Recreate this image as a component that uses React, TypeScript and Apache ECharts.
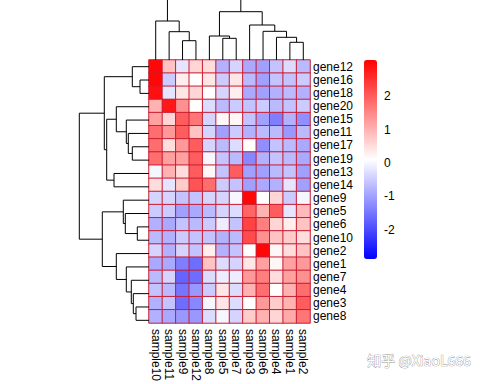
import React, { useEffect, useRef } from "react";
import * as echarts from "echarts";

const genes = ["gene12","gene16","gene18","gene20","gene15","gene11","gene17","gene19","gene13","gene14","gene9","gene5","gene6","gene10","gene2","gene1","gene7","gene4","gene3","gene8"];
const samples = ["sample10","sample11","sample9","sample12","sample8","sample5","sample7","sample3","sample6","sample4","sample1","sample2"];

// rows follow `genes`, columns follow `samples`
const values: number[][] = [
  [3.0, 0.8, -0.2, 0.6, 0.5, -0.8, -0.4, -0.9, -1.0, -0.6, -0.3, -0.7],
  [3.0, -0.5, 0.3, 0.1, 0.4, -0.5, 0.4, -0.7, -1.0, -0.6, -0.6, -0.5],
  [2.9, -0.2, 0.4, 0.6, 0.1, -0.4, 0.3, -0.9, -1.0, -0.8, -0.7, -0.8],
  [1.0, 2.8, 1.4, 0.1, -0.3, -0.7, -0.5, -0.6, -0.5, -0.7, -0.6, -0.5],
  [1.2, 0.6, 2.0, 1.7, -0.4, 0.2, 0.2, -0.6, -1.0, -1.4, -0.8, -1.2],
  [1.8, 1.3, 2.0, 0.8, -0.4, -1.0, -0.5, -0.8, -0.7, -0.7, -1.1, -0.7],
  [1.8, 0.5, 1.3, 2.0, -0.4, -0.7, -0.3, 0.1, -1.2, -0.6, -0.7, -0.9],
  [1.8, 1.2, 1.2, 2.0, 0.0, -0.6, -0.7, -1.3, -0.8, -0.6, -0.7, -0.9],
  [0.0, 1.0, 0.5, 2.0, 0.2, -0.6, 2.0, -1.0, -1.0, -0.7, -0.6, -1.0],
  [0.5, -0.2, 0.7, 2.1, 1.8, -0.5, -0.6, -1.0, -0.9, -0.8, -0.2, -1.0],
  [-0.4, -0.4, -0.6, -0.6, -0.4, -0.4, 0.0, 3.0, 0.1, 0.6, -0.5, 0.0],
  [-0.5, -0.5, -1.0, -0.9, -0.7, -0.4, -0.3, 1.9, 1.0, 2.0, -0.2, 0.9],
  [-0.8, -0.9, -0.6, -0.7, -0.5, -0.1, -0.6, 2.3, 1.6, 0.6, 0.3, 0.8],
  [-0.7, -0.8, -0.5, -0.6, -0.6, -0.8, -0.7, 2.2, 1.4, 0.8, 0.7, 0.5],
  [-0.4, -0.8, -0.4, -0.6, 0.3, -0.8, -0.6, 0.1, 3.0, 0.2, 0.5, 0.8],
  [-0.9, -0.9, -1.4, -1.6, 0.8, -0.3, -0.4, 0.4, 1.2, 0.2, 1.2, 1.3],
  [-0.7, -0.4, -1.7, -1.6, -0.3, -0.1, -0.1, 1.3, 1.6, 0.5, 1.2, 1.4],
  [-0.6, -0.7, -1.5, -1.1, -0.5, 0.4, -0.3, 1.0, 1.8, 0.1, 1.0, 1.8],
  [-0.8, -0.6, -1.6, -1.3, 0.0, 0.4, -0.3, 0.1, 1.3, 0.7, 1.0, 2.0],
  [-0.8, -0.9, -1.1, -1.1, -0.3, 0.0, -0.4, 0.7, 1.0, 0.6, 1.1, 1.7],
];

// hierarchical merges: [childA, childB, height]; leaves are 0..n-1 in display order
const rowMerges: number[][] = [
  [1, 2, 9], [0, 20, 16.7], [6, 7, 16.7], [5, 22, 20.7], [4, 23, 22.7],
  [3, 24, 32.7], [8, 9, 35], [25, 26, 42.3], [21, 27, 44.7],
  [12, 13, 11.7], [11, 29, 23.7], [10, 30, 25.7],
  [18, 19, 13], [17, 32, 15.7], [16, 33, 17.7], [15, 34, 22.7], [14, 35, 32.7],
  [31, 36, 46.7], [28, 37, 69.7],
];
const colMerges: number[][] = [
  [2, 3, 19.3], [1, 12, 28.3], [0, 13, 39],
  [5, 6, 21.7], [4, 15, 24],
  [10, 11, 17.7], [9, 17, 22.7], [8, 18, 28.7], [7, 19, 35],
  [16, 20, 48.3], [14, 21, 62],
];

const colorTicks = [-2, -1, 0, 1, 2];
const scaleMin = -2.87;
const scaleMax = 3.08;

function buildDendro(merges: number[][], n: number) {
  const pos: number[] = [];
  const ht: number[] = [];
  for (let i = 0; i < n; i++) { pos[i] = i; ht[i] = 0; }
  merges.forEach(([a, b, h], k) => {
    pos[n + k] = (pos[a] + pos[b]) / 2;
    ht[n + k] = h;
  });
  return merges.map(([a, b, h]) => [pos[a], ht[a], pos[b], ht[b], h]);
}

const FONT = "Liberation Sans, Arial, sans-serif";

export default function App() {
  const ref = useRef<HTMLDivElement>(null);
  useEffect(() => {
    if (!ref.current) return;
    const chart = echarts.init(ref.current, null, { renderer: "svg" });
    const heatData: number[][] = [];
    values.forEach((row, r) => row.forEach((v, c) => heatData.push([c, r, v])));
    const rowD = buildDendro(rowMerges, genes.length);
    const colD = buildDendro(colMerges, samples.length);
    const line = { stroke: "#000", fill: "none", lineWidth: 1 };

    const hidden = { show: false };
    chart.setOption({
      animation: false,
      grid: [
        { left: 149, top: 60, width: 161, height: 267 },
        { left: 79, top: 60, width: 70, height: 267 },
        { left: 149, top: 0, width: 161, height: 60 },
        { left: 364, top: 60, width: 13, height: 199 },
      ],
      xAxis: [
        {
          type: "category", gridIndex: 0, data: samples, position: "bottom",
          axisLine: hidden, axisTick: hidden, splitLine: hidden,
          axisLabel: { rotate: -90, margin: 6, fontSize: 12, color: "#000", fontFamily: FONT, interval: 0 },
        },
        { type: "value", gridIndex: 1, min: 0, max: 70, inverse: true, show: false },
        { type: "value", gridIndex: 2, min: -0.5, max: 11.5, show: false },
        { type: "value", gridIndex: 3, min: 0, max: 1, show: false },
      ],
      yAxis: [
        {
          type: "category", gridIndex: 0, data: genes, inverse: true, position: "right",
          axisLine: hidden, axisTick: hidden, splitLine: hidden,
          axisLabel: { margin: 3, fontSize: 12, color: "#000", fontFamily: FONT, interval: 0, padding: [5, 0, 0, 0] },
        },
        { type: "value", gridIndex: 1, min: -0.5, max: 19.5, inverse: true, show: false },
        { type: "value", gridIndex: 2, min: 0, max: 60, show: false },
        {
          type: "value", gridIndex: 3, min: scaleMin, max: scaleMax, position: "right",
          axisLine: hidden, axisTick: hidden, splitLine: hidden,
          axisLabel: { customValues: colorTicks, margin: 7, fontSize: 12, color: "#000", fontFamily: FONT, padding: [4, 0, 0, 0] },
        },
      ],
      visualMap: {
        type: "continuous", min: scaleMin, max: scaleMax, seriesIndex: 0,
        calculable: false, show: true, left: 364, top: 60, itemWidth: 13, itemHeight: 199,
        padding: 0, text: null, inRange: { color: ["#0000FF", "#FFFFFF", "#FF0000"] },
      },
      graphic: [
        {
          type: "text", left: 367, top: 353,
          style: {
            text: "知乎 @XiaoL666", fontSize: 14, fill: "#ffffff",
            fontFamily: "Noto Sans CJK SC, sans-serif",
            stroke: "#8f8f8f", lineWidth: 0.7,
          },
        },
      ],
      series: [
        {
          type: "heatmap", xAxisIndex: 0, yAxisIndex: 0, data: heatData,
          itemStyle: { borderColor: "#C81E32", borderWidth: 1 },
          emphasis: { disabled: true },
        },
        {
          type: "custom", xAxisIndex: 1, yAxisIndex: 1, data: rowD, clip: false,
          renderItem: (_p: any, api: any) => {
            const pa = api.value(0), ha = api.value(1), pb = api.value(2), hb = api.value(3), h = api.value(4);
            const pts = [[ha, pa], [h, pa], [h, pb], [hb, pb]].map((p) => api.coord(p));
            return { type: "polyline", shape: { points: pts }, style: line };
          },
        },
        {
          type: "custom", xAxisIndex: 2, yAxisIndex: 2, data: colD, clip: false,
          renderItem: (_p: any, api: any) => {
            const pa = api.value(0), ha = api.value(1), pb = api.value(2), hb = api.value(3), h = api.value(4);
            const pts = [[pa, ha], [pa, h], [pb, h], [pb, hb]].map((p) => api.coord(p));
            return { type: "polyline", shape: { points: pts }, style: line };
          },
        },
      ],
    });
    return () => chart.dispose();
  }, []);
  return <div ref={ref} style={{ position: "absolute", left: 0, top: 0, width: 480, height: 384, background: "#fff" }} />;
}
